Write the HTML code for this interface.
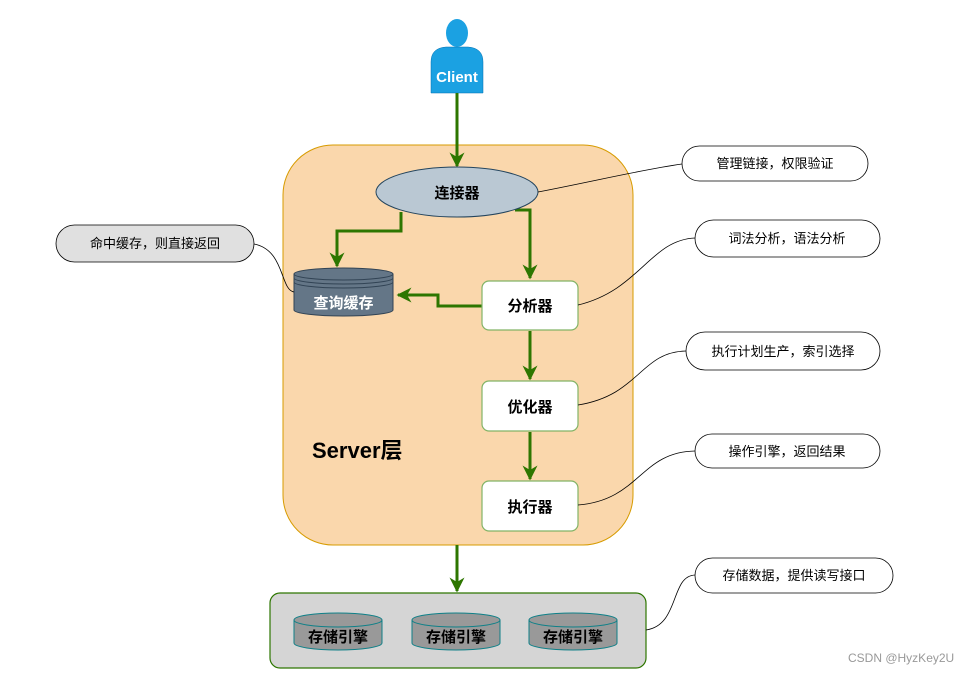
<!DOCTYPE html>
<html><head><meta charset="utf-8"><style>
html,body{margin:0;padding:0;background:#fff;}
svg{display:block;font-family:"Liberation Sans","Noto Sans CJK SC",sans-serif;}
</style></head><body>
<svg width="973" height="674" viewBox="0 0 973 674" xmlns="http://www.w3.org/2000/svg">
<defs>
<marker id="ah" viewBox="0 0 10 10" refX="9" refY="5" markerWidth="5" markerHeight="5" orient="auto" markerUnits="strokeWidth">
<path d="M0,0 L10,5 L0,10 L3,5 z" fill="#2d7600"/></marker>
</defs>
<rect x="283" y="145" width="350" height="400" rx="50" fill="#fad7ac" stroke="#d79b00" stroke-width="1"/>
<rect x="270" y="593" width="376" height="75" rx="10" fill="#d5d5d5" stroke="#2d7600" stroke-width="1.2"/>
<ellipse cx="457" cy="33" rx="11" ry="14" fill="#1ba1e2"/>
<path d="M431,93 L431,62 Q431,48 446,47 L468,47 Q483,48 483,62 L483,93 Z" fill="#1ba1e2" stroke="#006eaf" stroke-width="0.5"/>
<text x="457" y="82" font-size="15" font-weight="bold" fill="#fff" text-anchor="middle">Client</text>
<g stroke="#2d7600" stroke-width="3" fill="none" marker-end="url(#ah)">
<path d="M457,93 L457,166"/>
<path d="M401,212 L401,231 L337,231 L337,266"/>
<path d="M515,210 L530,210 L530,278"/>
<path d="M482,306 L438,306 L438,295 L398,295"/>
<path d="M530,331 L530,379"/>
<path d="M530,432 L530,479"/>
<path d="M457,545 L457,591"/>
</g>
<ellipse cx="457" cy="192" rx="81" ry="25" fill="#bac8d3" stroke="#23445d" stroke-width="1"/>
<text x="457" y="198" font-size="15" font-weight="bold" text-anchor="middle" fill="#000">连接器</text>
<path d="M294,274 L294,310 A49.5,6 0 0 0 393,310 L393,274" fill="#647687" stroke="#314354"/>
<ellipse cx="343.5" cy="274" rx="49.5" ry="6" fill="#647687" stroke="#314354"/>
<path d="M294,278 A49.5,6 0 0 0 393,278 M294,282 A49.5,6 0 0 0 393,282" fill="none" stroke="#314354"/>
<text x="343.5" y="308" font-size="15" font-weight="bold" fill="#fff" text-anchor="middle">查询缓存</text>
<g fill="#fff" stroke="#82b366" stroke-width="1.2">
<rect x="482" y="281" width="96" height="49" rx="7"/>
<rect x="482" y="381" width="96" height="50" rx="7"/>
<rect x="482" y="481" width="96" height="50" rx="7"/>
</g>
<g font-size="15" font-weight="bold" text-anchor="middle" fill="#000">
<text x="530" y="311">分析器</text>
<text x="530" y="412">优化器</text>
<text x="530" y="512">执行器</text>
</g>
<text x="312" y="458" font-size="22" font-weight="bold" fill="#000">Server层</text>
<g fill="#999" stroke="#0e8088" stroke-width="1">
<path d="M294,620 L294,643 A44,7 0 0 0 382,643 L382,620"/><ellipse cx="338" cy="620" rx="44" ry="7"/>
<path d="M412,620 L412,643 A44,7 0 0 0 500,643 L500,620"/><ellipse cx="456" cy="620" rx="44" ry="7"/>
<path d="M529,620 L529,643 A44,7 0 0 0 617,643 L617,620"/><ellipse cx="573" cy="620" rx="44" ry="7"/>
</g>
<g font-size="15" font-weight="bold" text-anchor="middle" fill="#000">
<text x="338" y="642">存储引擎</text><text x="456" y="642">存储引擎</text><text x="573" y="642">存储引擎</text>
</g>
<g fill="none" stroke="#000" stroke-width="0.8">
<path d="M538,192 C600,180 640,170 682,164"/>
<path d="M578,305 C640,290 650,240 695,238"/>
<path d="M578,405 C640,395 640,352 686,351"/>
<path d="M578,505 C640,500 640,452 695,451"/>
<path d="M646,630 C680,625 670,576 695,575"/>
<path d="M294,292 C280,290 285,250 254,244"/>
</g>
<g fill="#fff" stroke="#000" stroke-width="0.8">
<rect x="682" y="146" width="186" height="35" rx="17.5"/>
<rect x="695" y="220" width="185" height="37" rx="18.5"/>
<rect x="686" y="332" width="194" height="38" rx="19"/>
<rect x="695" y="434" width="185" height="34" rx="17"/>
<rect x="695" y="558" width="198" height="35" rx="17.5"/>
<rect x="56" y="225" width="198" height="37" rx="18.5" fill="#e0e0e0"/>
</g>
<g font-size="13" text-anchor="middle" fill="#000">
<text x="775" y="168">管理链接，权限验证</text>
<text x="787" y="243">词法分析，语法分析</text>
<text x="783" y="356">执行计划生产，索引选择</text>
<text x="787" y="456">操作引擎，返回结果</text>
<text x="794" y="580">存储数据，提供读写接口</text>
<text x="155" y="248">命中缓存，则直接返回</text>
</g>
<text x="848" y="662" font-size="12" fill="#999">CSDN @HyzKey2U</text>
</svg>
</body></html>
